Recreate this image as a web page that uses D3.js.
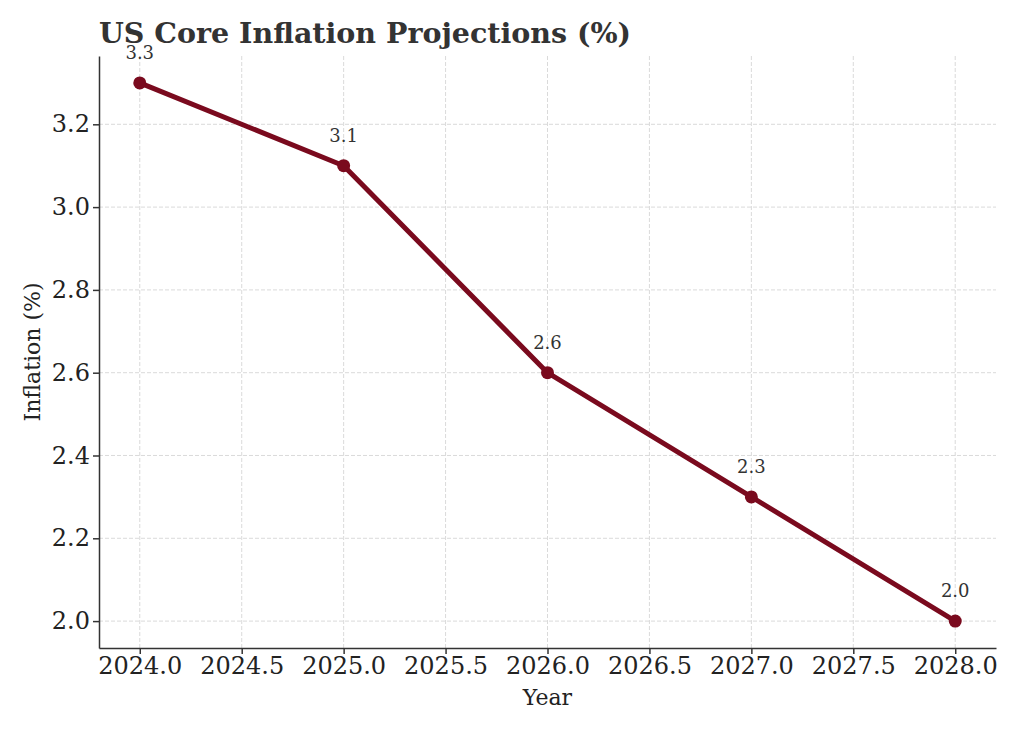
<!DOCTYPE html>
<html>
<head>
<meta charset="utf-8">
<script src="https://cdn.jsdelivr.net/npm/d3@7"></script>
<style>
 body { margin: 0; background: #fff; }
 text { font-family: "DejaVu Serif", serif; }
</style>
</head>
<body>
<script>
// data
const years = [2024, 2025, 2026, 2027, 2028];
const inflation = [3.3, 3.1, 2.6, 2.3, 2.0];
const xTicks = [2024.0, 2024.5, 2025.0, 2025.5, 2026.0, 2026.5, 2027.0, 2027.5, 2028.0];
const yTicks = [2.0, 2.2, 2.4, 2.6, 2.8, 3.0, 3.2];

const W = 1024, H = 731;
const mLeft = 99, mRight = 996, mTop = 56, mBottom = 648;

const x = d3.scaleLinear().domain([2023.8, 2028.2]).range([mLeft, mRight]);
const y = d3.scaleLinear().domain([1.935, 3.365]).range([mBottom, mTop]);

const svg = d3.select("body").append("svg")
  .attr("width", W).attr("height", H);

// grid
svg.append("g").selectAll("line").data(xTicks).enter().append("line")
  .attr("x1", d => x(d)).attr("x2", d => x(d))
  .attr("y1", mTop).attr("y2", mBottom)
  .attr("stroke", "#d0d0d0").attr("stroke-width", 0.8).attr("stroke-dasharray", "4,2");
svg.append("g").selectAll("line").data(yTicks).enter().append("line")
  .attr("x1", mLeft).attr("x2", mRight)
  .attr("y1", d => y(d)).attr("y2", d => y(d))
  .attr("stroke", "#d0d0d0").attr("stroke-width", 0.8).attr("stroke-dasharray", "4,2");

// axes
const xAxis = d3.axisBottom(x).tickValues(xTicks).tickFormat(d3.format(".1f")).tickSize(6).tickSizeOuter(0);
const gx = svg.append("g").attr("transform", "translate(0," + mBottom + ")").call(xAxis);

const yAxis = d3.axisLeft(y).tickValues(yTicks).tickFormat(d3.format(".1f")).tickSize(6).tickSizeOuter(0);
const gy = svg.append("g").attr("transform", "translate(" + mLeft + ",0)").call(yAxis);

[gx, gy].forEach(g => {
  g.attr("font-size", 24).attr("font-family", "DejaVu Serif, serif");
  g.select(".domain").attr("stroke", "#333").attr("stroke-width", 1.5);
  g.selectAll(".tick line").attr("stroke", "#333").attr("stroke-width", 1.5);
  g.selectAll("text").attr("fill", "#222");
});

// line
const pts = years.map((d, i) => [d, inflation[i]]);
svg.append("path").datum(pts)
  .attr("fill", "none").attr("stroke", "#7a0a1e").attr("stroke-width", 5)
  .attr("stroke-linejoin", "round")
  .attr("d", d3.line().x(d => x(d[0])).y(d => y(d[1])));

svg.selectAll("circle.pt").data(pts).enter().append("circle")
  .attr("cx", d => x(d[0])).attr("cy", d => y(d[1])).attr("r", 6.5)
  .attr("fill", "#7a0a1e");

svg.selectAll("text.lbl").data(pts).enter().append("text")
  .attr("x", d => x(d[0])).attr("y", d => y(d[1]) - 24)
  .attr("text-anchor", "middle").attr("font-size", 18).attr("fill", "#333")
  .text(d => d[1].toFixed(1));

// titles
svg.append("text").attr("x", mLeft).attr("y", 43)
  .attr("font-size", 28.5).attr("font-weight", "bold").attr("fill", "#333")
  .text("US Core Inflation Projections (%)");

svg.append("text").attr("x", (mLeft + mRight) / 2).attr("y", 705)
  .attr("text-anchor", "middle").attr("font-size", 22).attr("fill", "#222")
  .text("Year");

svg.append("text").attr("transform", "translate(40," + ((mTop + mBottom) / 2) + ") rotate(-90)")
  .attr("text-anchor", "middle").attr("font-size", 22).attr("fill", "#222")
  .text("Inflation (%)");
</script>
</body>
</html>
